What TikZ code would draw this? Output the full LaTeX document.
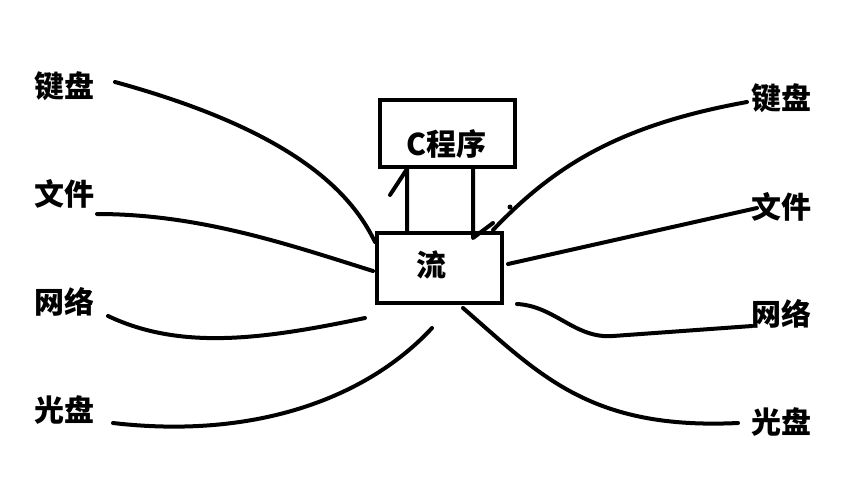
\documentclass[tikz,border=0pt]{standalone}
\usepackage{fontspec}
\newfontfamily\cjk{Noto Sans CJK SC}
\begin{document}
\begin{tikzpicture}[x=1pt,y=-1pt,
  lab/.style={font=\cjk\bfseries\fontsize{30}{35}\selectfont, inner sep=0pt},
  boxn/.style={draw, line width=4pt, inner sep=0pt},
  ln/.style={line width=4pt, line cap=round, line join=round}]
\useasboundingbox (0,0) rectangle (850,493);
% boxes
\node[boxn, minimum width=135pt, minimum height=67pt] (cprog) at (447.5,133.5) {};
\node[lab] (ctext) at (446,144) {C程序};
\node[boxn, minimum width=125pt, minimum height=70pt] (liu) at (439.5,268) {};
\node[lab] (ltext) at (431,265) {流};
% labels left
\node[lab] (kbL) at (64,86) {键盘};
\node[lab] (fiL) at (64,194) {文件};
\node[lab] (neL) at (64,302) {网络};
\node[lab] (cdL) at (64,410) {光盘};
% labels right
\node[lab] (kbR) at (781,98) {键盘};
\node[lab] (fiR) at (781,207) {文件};
\node[lab] (neR) at (781,314) {网络};
\node[lab] (cdR) at (781,422) {光盘};
% endpoints
\coordinate (k1) at (115,82);  \coordinate (k2) at (375,242);
\coordinate (f1) at (97,214);  \coordinate (f2) at (373,271);
\coordinate (n1) at (108,316); \coordinate (n2) at (365,318);
\coordinate (c1) at (113,423); \coordinate (c2) at (432,328);
\coordinate (K1) at (493,230); \coordinate (K2) at (747,102);
\coordinate (F1) at (508,264); \coordinate (F2) at (757,208);
\coordinate (N1) at (517,304); \coordinate (Nm) at (613,336); \coordinate (N2) at (752,326);
\coordinate (C1) at (463,308); \coordinate (C2) at (738,423);
% left curves
\draw[ln] (k1) .. controls (290,130) and (350,190) .. (k2);
\draw[ln] (f1) .. controls (200,214) and (290,245) .. (f2);
\draw[ln] (n1) .. controls (180,350) and (260,340) .. (n2);
\draw[ln] (c1) .. controls (260,440) and (370,395) .. (c2);
% right curves
\draw[ln] (K1) .. controls (555,165) and (620,125) .. (K2);
\draw[ln] (F1) -- (F2);
\draw[ln] (N1) .. controls (555,306) and (575,339) .. (Nm) -- (N2);
\draw[ln] (C1) .. controls (540,375) and (590,430) .. (C2);
% arrows between boxes
\coordinate (a1) at (407,0);
\coordinate (a2) at (473,0);
\draw[ln] (a1 |- liu.north) -- (a1 |- cprog.south) -- ++(-17,26);
\draw[ln] (a2 |- cprog.south) -- (473,238) -- (493,223);
\fill (510,207) circle (2.5pt);
\end{tikzpicture}
\end{document}
